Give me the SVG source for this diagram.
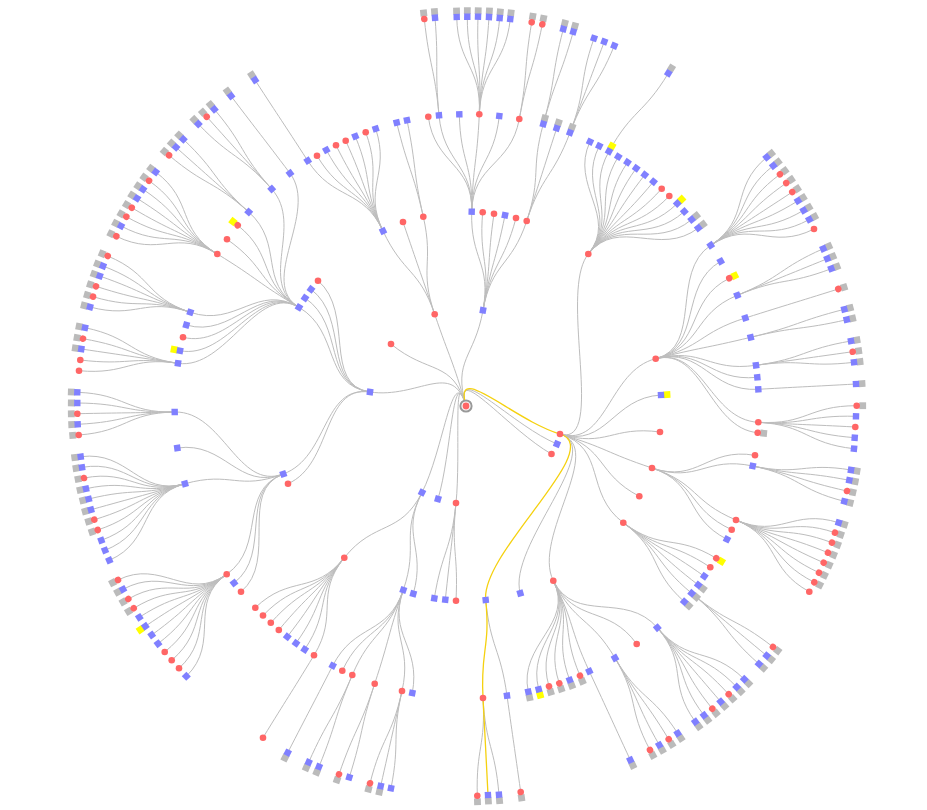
<svg xmlns="http://www.w3.org/2000/svg" width="927" height="810" viewBox="0 0 927 810">
<defs>
<style>
.l{fill:none;stroke:#bdbdbd;stroke-width:1}
.ly{fill:none;stroke:#f5d10f;stroke-width:1.3}
</style>
<circle id="c" r="3.3" fill="#f66"/>
<rect id="s" x="-3.2" y="-3.2" width="6.4" height="6.4" fill="#8080ff"/>
<rect id="g" x="2.6" y="-3.4" width="6.8" height="6.8" fill="#bbb"/>
<rect id="y" x="2.6" y="-3.4" width="6.8" height="6.8" fill="#ff0"/>
</defs>
<rect width="927" height="810" fill="#fff"/>
<g transform="translate(466 406)">
<g id="links">
<path class="l" d="M0 0C-13.4-46.6 -37.5-31 -75-62"/>
<path class="l" d="M0 0C-13.4-46.6 -15.7-45.9 -31.3-91.7"/>
<path class="l" d="M0 0C-13.4-46.6 8.5-47.9 17-95.7"/>
<path class="l" d="M0 0C-13.4-46.6 -48-7 -96-14"/>
<path class="l" d="M0 0C-13.4-46.6 45.5 19 91 38"/>
<path class="l" d="M0 0C-13.4-46.6 42.8 24 85.5 48"/>
<path class="l" d="M0 0C-13.4-46.6 -22 43.3 -44 86.5"/>
<path class="l" d="M0 0C-13.4-46.6 -14 46.5 -28 93"/>
<path class="l" d="M0 0C-13.4-46.6 -5 48.5 -10 97"/>
<path class="l" d="M-31.3-91.7C-47-137.6 -62.3-131.3 -83-175"/>
<path class="l" d="M-31.3-91.7C-47-137.6 -47.3-138 -63-184"/>
<path class="l" d="M-31.3-91.7C-47-137.6 -32-142 -42.7-189.3"/>
<path class="l" d="M17-95.7C25.5-143.6 4.3-145.7 5.7-194.3"/>
<path class="l" d="M17-95.7C25.5-143.6 12.5-145.3 16.7-193.7"/>
<path class="l" d="M17-95.7C25.5-143.6 21-144.2 28-192.3"/>
<path class="l" d="M17-95.7C25.5-143.6 29.3-143 39-190.7"/>
<path class="l" d="M17-95.7C25.5-143.6 37.5-141 50-188"/>
<path class="l" d="M17-95.7C25.5-143.6 45.5-138.8 60.7-185"/>
<path class="l" d="M-96-14C-144-21 -125.3-74 -167-98.7"/>
<path class="l" d="M-96-14C-144-21 -120.8-81 -161-108"/>
<path class="l" d="M-96-14C-144-21 -116.3-87.5 -155-116.7"/>
<path class="l" d="M-96-14C-144-21 -111-94 -148-125.3"/>
<path class="l" d="M-96-14C-144-21 -137 51 -182.7 68"/>
<path class="l" d="M-96-14C-144-21 -133.5 58.3 -178 77.7"/>
<path class="l" d="M94 28C141 42 91.7-114 122.3-152"/>
<path class="l" d="M94 28C141 42 142.3-35.5 189.7-47.3"/>
<path class="l" d="M94 28C141 42 146.3-8.3 195-11"/>
<path class="l" d="M94 28C141 42 145.5 19.5 194 26"/>
<path class="l" d="M94 28C141 42 139.5 46.5 186 62"/>
<path class="l" d="M94 28C141 42 130 67.7 173.3 90.3"/>
<path class="l" d="M94 28C141 42 118 87.5 157.3 116.7"/>
<path class="l" d="M94 28C141 42 65.5 131 87.3 174.7"/>
<path class="l" d="M94 28C141 42 40.7 140.5 54.3 187.3"/>
<path class="l" d="M-44 86.5C-66 129.8 -91.3 113.8 -121.7 151.7"/>
<path class="l" d="M-44 86.5C-66 129.8 -47 138 -62.7 184"/>
<path class="l" d="M-44 86.5C-66 129.8 -39.5 140.8 -52.7 187.7"/>
<path class="l" d="M-10 97C-15 145.5 -23.8 144.2 -31.7 192.3"/>
<path class="l" d="M-10 97C-15 145.5 -15.5 145.3 -20.7 193.7"/>
<path class="l" d="M-10 97C-15 145.5 -7.5 146 -10 194.7"/>
<path class="l" d="M-83-175C-103.8-218.8 -131.9-204.4 -158.3-245.3"/>
<path class="l" d="M-83-175C-103.8-218.8 -124.2-208.6 -149-250.3"/>
<path class="l" d="M-83-175C-103.8-218.8 -116.4-213.3 -139.7-256"/>
<path class="l" d="M-83-175C-103.8-218.8 -108.3-217.3 -130-260.7"/>
<path class="l" d="M-83-175C-103.8-218.8 -100.3-221.1 -120.3-265.3"/>
<path class="l" d="M-83-175C-103.8-218.8 -92.3-224.8 -110.7-269.7"/>
<path class="l" d="M-83-175C-103.8-218.8 -83.6-228.1 -100.3-273.7"/>
<path class="l" d="M-83-175C-103.8-218.8 -75.3-231.1 -90.3-277.3"/>
<path class="l" d="M-42.7-189.3C-53.4-236.6 -57.8-236.1 -69.3-283.3"/>
<path class="l" d="M-42.7-189.3C-53.4-236.6 -49.2-238.1 -59-285.7"/>
<path class="l" d="M5.7-194.3C7.1-242.9 -31.4-241.1 -37.7-289.3"/>
<path class="l" d="M5.7-194.3C7.1-242.9 -22.5-242.3 -27-290.7"/>
<path class="l" d="M5.7-194.3C7.1-242.9 -5.6-243.1 -6.7-291.7"/>
<path class="l" d="M5.7-194.3C7.1-242.9 11.1-243.1 13.3-291.7"/>
<path class="l" d="M5.7-194.3C7.1-242.9 27.8-241.7 33.3-290"/>
<path class="l" d="M5.7-194.3C7.1-242.9 44.4-239.2 53.3-287"/>
<path class="l" d="M60.7-185C75.9-231.3 64.4-235 77.3-282"/>
<path class="l" d="M60.7-185C75.9-231.3 75.6-231.4 90.7-277.7"/>
<path class="l" d="M60.7-185C75.9-231.3 86.7-227.8 104-273.3"/>
<path class="l" d="M-167-98.7C-208.8-123.4 -240-35.6 -288-42.7"/>
<path class="l" d="M-167-98.7C-208.8-123.4 -238.3-46.1 -286-55.3"/>
<path class="l" d="M-167-98.7C-208.8-123.4 -235.8-57.3 -283-68.7"/>
<path class="l" d="M-167-98.7C-208.8-123.4 -233.1-67.5 -279.7-81"/>
<path class="l" d="M-167-98.7C-208.8-123.4 -229.8-78.1 -275.7-93.7"/>
<path class="l" d="M-167-98.7C-208.8-123.4 -207.3-126.7 -248.7-152"/>
<path class="l" d="M-167-98.7C-208.8-123.4 -199.2-138.9 -239-166.7"/>
<path class="l" d="M-167-98.7C-208.8-123.4 -190.3-150.6 -228.3-180.7"/>
<path class="l" d="M-167-98.7C-208.8-123.4 -181.1-161.7 -217.3-194"/>
<path class="l" d="M-167-98.7C-208.8-123.4 -161.9-180.8 -194.3-217"/>
<path class="l" d="M-167-98.7C-208.8-123.4 -146.7-193.9 -176-232.7"/>
<path class="l" d="M-182.7 68C-228.4 85 -242.8 5 -291.3 6"/>
<path class="l" d="M-182.7 68C-228.4 85 -240.6 35 -288.7 42"/>
<path class="l" d="M-182.7 68C-228.4 85 -234.2 64.8 -281 77.7"/>
<path class="l" d="M-182.7 68C-228.4 85 -199.4 140.3 -239.3 168.3"/>
<path class="l" d="M-182.7 68C-228.4 85 -193.3 147.5 -232 177"/>
<path class="l" d="M-182.7 68C-228.4 85 -187.5 154.8 -225 185.7"/>
<path class="l" d="M122.3-152C152.9-190 103.3-220.3 124-264.3"/>
<path class="l" d="M122.3-152C152.9-190 111.1-216.7 133.3-260"/>
<path class="l" d="M122.3-152C152.9-190 119.2-212.3 143-254.7"/>
<path class="l" d="M122.3-152C152.9-190 126.9-207.8 152.3-249.3"/>
<path class="l" d="M122.3-152C152.9-190 134.6-203.1 161.5-243.7"/>
<path class="l" d="M122.3-152C152.9-190 141.8-198.1 170.2-237.7"/>
<path class="l" d="M122.3-152C152.9-190 149-192.7 178.8-231.2"/>
<path class="l" d="M122.3-152C152.9-190 156.3-186.9 187.5-224.3"/>
<path class="l" d="M122.3-152C152.9-190 163.1-181.1 195.7-217.3"/>
<path class="l" d="M122.3-152C152.9-190 169.4-175 203.3-210"/>
<path class="l" d="M122.3-152C152.9-190 176.1-168.8 211.3-202.5"/>
<path class="l" d="M122.3-152C152.9-190 181.9-162.1 218.3-194.5"/>
<path class="l" d="M122.3-152C152.9-190 188.1-155.4 225.7-186.5"/>
<path class="l" d="M122.3-152C152.9-190 193.6-148.3 232.3-178"/>
<path class="l" d="M189.7-47.3C237.1-59.1 203.9-133.9 244.7-160.7"/>
<path class="l" d="M189.7-47.3C237.1-59.1 212.3-120.6 254.7-144.7"/>
<path class="l" d="M189.7-47.3C237.1-59.1 219.4-106.4 263.3-127.7"/>
<path class="l" d="M189.7-47.3C237.1-59.1 226.1-92.3 271.3-110.7"/>
<path class="l" d="M189.7-47.3C237.1-59.1 232.8-73.3 279.3-88"/>
<path class="l" d="M189.7-47.3C237.1-59.1 237.3-57.3 284.7-68.7"/>
<path class="l" d="M189.7-47.3C237.1-59.1 241.7-33.9 290-40.7"/>
<path class="l" d="M189.7-47.3C237.1-59.1 242.8-23.9 291.3-28.7"/>
<path class="l" d="M189.7-47.3C237.1-59.1 243.6-13.9 292.3-16.7"/>
<path class="l" d="M189.7-47.3C237.1-59.1 243.6 13.6 292.3 16.3"/>
<path class="l" d="M189.7-47.3C237.1-59.1 243.1 22.3 291.7 26.7"/>
<path class="l" d="M186 62C232.5 77.5 240.8 41.1 289 49.3"/>
<path class="l" d="M186 62C232.5 77.5 238.9 50 286.7 60"/>
<path class="l" d="M186 62C232.5 77.5 225 95 270 114"/>
<path class="l" d="M186 62C232.5 77.5 221.4 103.1 265.7 123.7"/>
<path class="l" d="M186 62C232.5 77.5 217.5 111.1 261 133.3"/>
<path class="l" d="M157.3 116.7C196.6 145.9 208.6 126.9 250.3 152.3"/>
<path class="l" d="M157.3 116.7C196.6 145.9 203.6 134.4 244.3 161.3"/>
<path class="l" d="M157.3 116.7C196.6 145.9 198.6 141.9 238.3 170.3"/>
<path class="l" d="M157.3 116.7C196.6 145.9 193.6 149.2 232.3 179"/>
<path class="l" d="M157.3 116.7C196.6 145.9 188.1 156.1 225.7 187.3"/>
<path class="l" d="M157.3 116.7C196.6 145.9 181.9 163.1 218.3 195.7"/>
<path class="l" d="M87.3 174.7C109.1 218.4 159.4 184.8 191.3 221.7"/>
<path class="l" d="M87.3 174.7C109.1 218.4 142.3 198.3 170.7 238"/>
<path class="l" d="M87.3 174.7C109.1 218.4 124.2 210 149 252"/>
<path class="l" d="M87.3 174.7C109.1 218.4 102.8 221.1 123.3 265.3"/>
<path class="l" d="M87.3 174.7C109.1 218.4 95 224.8 114 269.7"/>
<path class="l" d="M87.3 174.7C109.1 218.4 86.4 228.3 103.7 274"/>
<path class="l" d="M87.3 174.7C109.1 218.4 77.8 231.1 93.3 277.3"/>
<path class="l" d="M87.3 174.7C109.1 218.4 69.2 233.6 83 280.3"/>
<path class="l" d="M87.3 174.7C109.1 218.4 60.6 236.1 72.7 283.3"/>
<path class="l" d="M87.3 174.7C109.1 218.4 51.9 238.1 62.3 285.7"/>
<path class="l" d="M19.7 194C24.6 242.5 34.2 241.4 41 289.7"/>
<path class="l" d="M-121.7 151.7C-152.1 189.6 -175.6 168.1 -210.7 201.7"/>
<path class="l" d="M-121.7 151.7C-152.1 189.6 -169.2 174.6 -203 209.5"/>
<path class="l" d="M-121.7 151.7C-152.1 189.6 -162.7 180.7 -195.2 216.8"/>
<path class="l" d="M-121.7 151.7C-152.1 189.6 -156 186.7 -187.2 224"/>
<path class="l" d="M-121.7 151.7C-152.1 189.6 -148.9 192.3 -178.7 230.7"/>
<path class="l" d="M-121.7 151.7C-152.1 189.6 -141.7 197.7 -170 237.2"/>
<path class="l" d="M-121.7 151.7C-152.1 189.6 -134.4 202.9 -161.3 243.5"/>
<path class="l" d="M-121.7 151.7C-152.1 189.6 -126.7 207.8 -152 249.3"/>
<path class="l" d="M-62.7 184C-78.4 230 -111.1 216.4 -133.3 259.7"/>
<path class="l" d="M-62.7 184C-78.4 230 -103.1 220.6 -123.7 264.7"/>
<path class="l" d="M-62.7 184C-78.4 230 -94.8 224.2 -113.7 269"/>
<path class="l" d="M-62.7 184C-78.4 230 -76.1 231.4 -91.3 277.7"/>
<path class="l" d="M-62.7 184C-78.4 230 -53.3 237.5 -64 285"/>
<path class="l" d="M-62.7 184C-78.4 230 -44.8 239.2 -53.7 287"/>
<path class="l" d="M-158.3-245.3C-184.7-286.2 -184.6-285.3 -211-326"/>
<path class="l" d="M-27-290.7C-31.5-339.2 -36.5-338.6 -41.7-387"/>
<path class="l" d="M-27-290.7C-31.5-339.2 -27.1-339.8 -31-388.3"/>
<path class="l" d="M13.3-291.7C15.5-340.3 -8.1-340.4 -9.3-389"/>
<path class="l" d="M13.3-291.7C15.5-340.3 1.1-340.6 1.3-389.3"/>
<path class="l" d="M13.3-291.7C15.5-340.3 10.5-340.6 12-389.3"/>
<path class="l" d="M13.3-291.7C15.5-340.3 20.1-340.4 23-389"/>
<path class="l" d="M13.3-291.7C15.5-340.3 29.5-339.5 33.7-388"/>
<path class="l" d="M13.3-291.7C15.5-340.3 38.8-338.6 44.3-387"/>
<path class="l" d="M53.3-287C62.2-334.8 57.5-335.7 65.7-383.7"/>
<path class="l" d="M53.3-287C62.2-334.8 66.8-334 76.3-381.7"/>
<path class="l" d="M77.3-282C90.2-329 85.1-329.9 97.3-377"/>
<path class="l" d="M77.3-282C90.2-329 93.9-327.5 107.3-374.3"/>
<path class="l" d="M104-273.3C121.3-318.9 112-321.7 128-367.7"/>
<path class="l" d="M104-273.3C121.3-318.9 121-318.8 138.3-364.3"/>
<path class="l" d="M104-273.3C121.3-318.9 129.8-315.3 148.3-360.3"/>
<path class="l" d="M143-254.7C166.8-297.2 177-291.1 202.3-332.7"/>
<path class="l" d="M-288-42.7C-336-49.8 -333.4-68.5 -381-78.3"/>
<path class="l" d="M-288-42.7C-336-49.8 -335.1-58.9 -383-67.3"/>
<path class="l" d="M-288-42.7C-336-49.8 -336.6-49.9 -384.7-57"/>
<path class="l" d="M-288-42.7C-336-49.8 -337.5-40.3 -385.7-46"/>
<path class="l" d="M-288-42.7C-336-49.8 -338.6-30.9 -387-35.3"/>
<path class="l" d="M-275.7-93.7C-321.7-109.3 -313.5-131.3 -358.3-150"/>
<path class="l" d="M-275.7-93.7C-321.7-109.3 -317.6-122.5 -363-140"/>
<path class="l" d="M-275.7-93.7C-321.7-109.3 -320.5-113.8 -366.3-130"/>
<path class="l" d="M-275.7-93.7C-321.7-109.3 -323.8-104.7 -370-119.7"/>
<path class="l" d="M-275.7-93.7C-321.7-109.3 -326.4-95.6 -373-109.3"/>
<path class="l" d="M-275.7-93.7C-321.7-109.3 -329-86.6 -376-99"/>
<path class="l" d="M-248.7-152C-290.2-177.3 -306-148.5 -349.7-169.7"/>
<path class="l" d="M-248.7-152C-290.2-177.3 -301.9-157.5 -345-180"/>
<path class="l" d="M-248.7-152C-290.2-177.3 -297.2-165.6 -339.7-189.3"/>
<path class="l" d="M-248.7-152C-290.2-177.3 -292.5-173.5 -334.3-198.3"/>
<path class="l" d="M-248.7-152C-290.2-177.3 -287.9-181.7 -329-207.7"/>
<path class="l" d="M-248.7-152C-290.2-177.3 -282.6-189.6 -323-216.7"/>
<path class="l" d="M-248.7-152C-290.2-177.3 -277.4-197.1 -317-225.3"/>
<path class="l" d="M-248.7-152C-290.2-177.3 -271.5-204.8 -310.3-234"/>
<path class="l" d="M-217.3-194C-253.5-226.3 -259.9-219.4 -297-250.7"/>
<path class="l" d="M-217.3-194C-253.5-226.3 -253.8-226.4 -290-258.7"/>
<path class="l" d="M-217.3-194C-253.5-226.3 -247.4-233.4 -282.7-266.7"/>
<path class="l" d="M-194.3-217C-226.7-253.2 -234.2-246.8 -267.7-282"/>
<path class="l" d="M-194.3-217C-226.7-253.2 -226.9-253.1 -259.3-289.3"/>
<path class="l" d="M-194.3-217C-226.7-253.2 -220.2-259.6 -251.7-296.7"/>
<path class="l" d="M-176-232.7C-205.3-271.5 -205.6-271.3 -235-310"/>
<path class="l" d="M-291.3 6C-339.9 7 -340.1-12 -388.7-13.7"/>
<path class="l" d="M-291.3 6C-339.9 7 -340.1-2.6 -388.7-3"/>
<path class="l" d="M-291.3 6C-339.9 7 -340.1 6.7 -388.7 7.7"/>
<path class="l" d="M-291.3 6C-339.9 7 -339.8 16 -388.3 18.3"/>
<path class="l" d="M-291.3 6C-339.9 7 -338.9 25.4 -387.3 29"/>
<path class="l" d="M-281 77.7C-327.8 90.7 -337.1 44.4 -385.3 50.7"/>
<path class="l" d="M-281 77.7C-327.8 90.7 -336 53.6 -384 61.3"/>
<path class="l" d="M-281 77.7C-327.8 90.7 -334.3 63 -382 72"/>
<path class="l" d="M-281 77.7C-327.8 90.7 -332.5 72.4 -380 82.7"/>
<path class="l" d="M-281 77.7C-327.8 90.7 -330.1 81.4 -377.3 93"/>
<path class="l" d="M-281 77.7C-327.8 90.7 -328.1 90.7 -375 103.7"/>
<path class="l" d="M-281 77.7C-327.8 90.7 -325.2 99.5 -371.7 113.7"/>
<path class="l" d="M-281 77.7C-327.8 90.7 -322.3 108.5 -368.3 124"/>
<path class="l" d="M-281 77.7C-327.8 90.7 -319.1 117.5 -364.7 134.3"/>
<path class="l" d="M-281 77.7C-327.8 90.7 -315.9 126.3 -361 144.3"/>
<path class="l" d="M-281 77.7C-327.8 90.7 -312.1 135 -356.7 154.3"/>
<path class="l" d="M-239.3 168.3C-279.2 196.4 -304.5 152.3 -348 174"/>
<path class="l" d="M-239.3 168.3C-279.2 196.4 -300.1 160.4 -343 183.3"/>
<path class="l" d="M-239.3 168.3C-279.2 196.4 -295.5 168.9 -337.7 193"/>
<path class="l" d="M-239.3 168.3C-279.2 196.4 -290.8 177 -332.3 202.3"/>
<path class="l" d="M-239.3 168.3C-279.2 196.4 -285.9 184.9 -326.7 211.3"/>
<path class="l" d="M-239.3 168.3C-279.2 196.4 -280.6 192.8 -320.7 220.3"/>
<path class="l" d="M-239.3 168.3C-279.2 196.4 -275 200.4 -314.3 229"/>
<path class="l" d="M-239.3 168.3C-279.2 196.4 -269.5 208 -308 237.7"/>
<path class="l" d="M-239.3 168.3C-279.2 196.4 -263.6 215.3 -301.3 246"/>
<path class="l" d="M-239.3 168.3C-279.2 196.4 -257.5 222.5 -294.3 254.3"/>
<path class="l" d="M-239.3 168.3C-279.2 196.4 -251.1 229.5 -287 262.3"/>
<path class="l" d="M-239.3 168.3C-279.2 196.4 -244.7 236.5 -279.7 270.3"/>
<path class="l" d="M244.7-160.7C285.5-187.5 263.1-217.6 300.7-248.7"/>
<path class="l" d="M244.7-160.7C285.5-187.5 268.9-210.3 307.3-240.3"/>
<path class="l" d="M244.7-160.7C285.5-187.5 274.8-202.7 314-231.7"/>
<path class="l" d="M244.7-160.7C285.5-187.5 280.3-195.1 320.3-223"/>
<path class="l" d="M244.7-160.7C285.5-187.5 285.5-187.3 326.3-214"/>
<path class="l" d="M244.7-160.7C285.5-187.5 290.5-179.6 332-205.2"/>
<path class="l" d="M244.7-160.7C285.5-187.5 295.5-171.2 337.7-195.7"/>
<path class="l" d="M244.7-160.7C285.5-187.5 300.4-163.2 343.3-186.5"/>
<path class="l" d="M244.7-160.7C285.5-187.5 304.5-154.9 348-177"/>
<path class="l" d="M271.3-110.7C316.5-129.2 312.6-137.6 357.3-157.3"/>
<path class="l" d="M271.3-110.7C316.5-129.2 316.1-128.9 361.3-147.3"/>
<path class="l" d="M271.3-110.7C316.5-129.2 319.6-120.1 365.3-137.3"/>
<path class="l" d="M279.3-88C325.9-102.7 325.8-102.4 372.3-117"/>
<path class="l" d="M284.7-68.7C332.2-80.2 331-84.6 378.3-96.7"/>
<path class="l" d="M284.7-68.7C332.2-80.2 333.1-75.5 380.7-86.3"/>
<path class="l" d="M290-40.7C338.3-47.5 336.9-56.9 385-65"/>
<path class="l" d="M290-40.7C338.3-47.5 338.4-47.5 386.7-54.3"/>
<path class="l" d="M290-40.7C338.3-47.5 339.5-38.2 388-43.7"/>
<path class="l" d="M292.3-16.7C341-19.5 341.3-19.3 390-22"/>
<path class="l" d="M292.3 16.3C341 19 341.9-0.3 390.7-0.3"/>
<path class="l" d="M292.3 16.3C341 19 341.3 9 390 10.3"/>
<path class="l" d="M292.3 16.3C341 19 340.6 18.4 389.3 21"/>
<path class="l" d="M292.3 16.3C341 19 340.1 27.7 388.7 31.7"/>
<path class="l" d="M292.3 16.3C341 19 339.5 37.4 388 42.7"/>
<path class="l" d="M286.7 60C334.5 70 336.9 56 385 64"/>
<path class="l" d="M286.7 60C334.5 70 335.4 65 383.3 74.3"/>
<path class="l" d="M286.7 60C334.5 70 333.4 74.4 381 85"/>
<path class="l" d="M286.7 60C334.5 70 331 83.4 378.3 95.3"/>
<path class="l" d="M270 114C315 133 326.1 102.1 372.7 116.7"/>
<path class="l" d="M270 114C315 133 322.9 110.9 369 126.7"/>
<path class="l" d="M270 114C315 133 320.3 119.6 366 136.7"/>
<path class="l" d="M270 114C315 133 316.8 128.4 362 146.7"/>
<path class="l" d="M270 114C315 133 313 137.1 357.7 156.7"/>
<path class="l" d="M270 114C315 133 308.9 145.9 353 166.7"/>
<path class="l" d="M270 114C315 133 304.8 154.3 348.3 176.3"/>
<path class="l" d="M270 114C315 133 300.4 162.5 343.3 185.7"/>
<path class="l" d="M225.7 187.3C263.3 218.5 268.6 210.9 307 241"/>
<path class="l" d="M225.7 187.3C263.3 218.5 263.1 218.5 300.7 249.7"/>
<path class="l" d="M225.7 187.3C263.3 218.5 256.4 225.8 293 258"/>
<path class="l" d="M191.3 221.7C223.2 258.7 243.5 239.1 278.3 273.3"/>
<path class="l" d="M191.3 221.7C223.2 258.7 236.9 245.9 270.7 281"/>
<path class="l" d="M191.3 221.7C223.2 258.7 229.9 252.3 262.7 288.3"/>
<path class="l" d="M191.3 221.7C223.2 258.7 222.9 258.7 254.7 295.7"/>
<path class="l" d="M191.3 221.7C223.2 258.7 215.5 264.9 246.3 302.7"/>
<path class="l" d="M191.3 221.7C223.2 258.7 208.3 270.6 238 309.3"/>
<path class="l" d="M191.3 221.7C223.2 258.7 200.6 276.2 229.3 315.7"/>
<path class="l" d="M149 252C173.8 294 185.2 286.4 211.7 327.3"/>
<path class="l" d="M149 252C173.8 294 177.4 291.6 202.7 333.3"/>
<path class="l" d="M149 252C173.8 294 169.1 296.6 193.3 339"/>
<path class="l" d="M149 252C173.8 294 161 301 184 344"/>
<path class="l" d="M123.3 265.3C143.9 309.5 143.8 309.8 164.3 354"/>
<path class="l" d="M17 292C19.8 340.7 9.9 341 11.3 389.7"/>
<path class="l" d="M17 292C19.8 340.7 28.9 340.1 33 388.7"/>
<path class="l" d="M41 289.7C47.8 338 47.9 337.8 54.7 386"/>
<path class="l" d="M-152 249.3C-177.3 290.9 -177.6 290.2 -203 331.7"/>
<path class="l" d="M-133.3 259.7C-155.5 303 -156 303.4 -178.3 346.7"/>
<path class="l" d="M-113.7 269C-132.7 313.8 -137.6 311.8 -157.3 356.3"/>
<path class="l" d="M-113.7 269C-132.7 313.8 -128.6 315.6 -147 360.7"/>
<path class="l" d="M-91.3 277.7C-106.5 324 -111.1 322.3 -127 368.3"/>
<path class="l" d="M-91.3 277.7C-106.5 324 -102.1 324.9 -116.7 371.3"/>
<path class="l" d="M-64 285C-74.7 332.5 -84 330.1 -96 377.3"/>
<path class="l" d="M-64 285C-74.7 332.5 -74.6 332.5 -85.3 380"/>
<path class="l" d="M-64 285C-74.7 332.5 -65.6 334.5 -75 382.3"/>
<path class="ly" d="M0 0C-13.4-46.6 47 14 94 28"/>
<path class="ly" d="M94 28C141 42 14.8 145.5 19.7 194"/>
<path class="ly" d="M19.7 194C24.6 242.5 14.2 243.3 17 292"/>
<path class="ly" d="M17 292C19.8 340.7 19.3 340.4 22 389"/>
</g>
<g id="nodes">
<g id="n0"><circle r="5.6" fill="#fff" stroke="#999" stroke-width="2"/><circle r="3.4" fill="#f66"/></g>
<g id="n1" transform="translate(-75 -62)"><use href="#c"/></g>
<g id="n2" transform="translate(-31.3 -91.7)"><use href="#c"/></g>
<g id="n3" transform="translate(17 -95.7) rotate(-79.9)"><use href="#s"/></g>
<g id="n4" transform="translate(-96 -14) rotate(188.3)"><use href="#s"/></g>
<g id="n5" transform="translate(94 28)"><use href="#c"/></g>
<g id="n6" transform="translate(91 38) rotate(22.7)"><use href="#s"/></g>
<g id="n7" transform="translate(85.5 48)"><use href="#c"/></g>
<g id="n8" transform="translate(-44 86.5) rotate(117)"><use href="#s"/></g>
<g id="n9" transform="translate(-28 93) rotate(106.8)"><use href="#s"/></g>
<g id="n10" transform="translate(-10 97)"><use href="#c"/></g>
<g id="n11" transform="translate(-83 -175) rotate(244.6)"><use href="#s"/></g>
<g id="n12" transform="translate(-63 -184)"><use href="#c"/></g>
<g id="n13" transform="translate(-42.7 -189.3)"><use href="#c"/></g>
<g id="n14" transform="translate(5.7 -194.3) rotate(-88.3)"><use href="#s"/></g>
<g id="n15" transform="translate(16.7 -193.7)"><use href="#c"/></g>
<g id="n16" transform="translate(28 -192.3)"><use href="#c"/></g>
<g id="n17" transform="translate(39 -190.7) rotate(-78.4)"><use href="#s"/></g>
<g id="n18" transform="translate(50 -188)"><use href="#c"/></g>
<g id="n19" transform="translate(60.7 -185)"><use href="#c"/></g>
<g id="n20" transform="translate(-167 -98.7) rotate(210.6)"><use href="#s"/></g>
<g id="n21" transform="translate(-161 -108) rotate(213.9)"><use href="#s"/></g>
<g id="n22" transform="translate(-155 -116.7) rotate(217)"><use href="#s"/></g>
<g id="n23" transform="translate(-148 -125.3)"><use href="#c"/></g>
<g id="n24" transform="translate(-182.7 68) rotate(159.6)"><use href="#s"/></g>
<g id="n25" transform="translate(-178 77.7)"><use href="#c"/></g>
<g id="n26" transform="translate(122.3 -152)"><use href="#c"/></g>
<g id="n27" transform="translate(189.7 -47.3)"><use href="#c"/></g>
<g id="n28" transform="translate(195 -11) rotate(-3.2)"><use href="#y"/><use href="#s"/></g>
<g id="n29" transform="translate(194 26)"><use href="#c"/></g>
<g id="n30" transform="translate(186 62)"><use href="#c"/></g>
<g id="n31" transform="translate(173.3 90.3)"><use href="#c"/></g>
<g id="n32" transform="translate(157.3 116.7)"><use href="#c"/></g>
<g id="n33" transform="translate(87.3 174.7)"><use href="#c"/></g>
<g id="n34" transform="translate(54.3 187.3) rotate(73.8)"><use href="#s"/></g>
<g id="n35" transform="translate(19.7 194) rotate(84.2)"><use href="#s"/></g>
<g id="n36" transform="translate(-121.7 151.7)"><use href="#c"/></g>
<g id="n37" transform="translate(-62.7 184) rotate(108.8)"><use href="#s"/></g>
<g id="n38" transform="translate(-52.7 187.7) rotate(105.7)"><use href="#s"/></g>
<g id="n39" transform="translate(-31.7 192.3) rotate(99.4)"><use href="#s"/></g>
<g id="n40" transform="translate(-20.7 193.7) rotate(96.1)"><use href="#s"/></g>
<g id="n41" transform="translate(-10 194.7)"><use href="#c"/></g>
<g id="n42" transform="translate(-158.3 -245.3) rotate(237.2)"><use href="#s"/></g>
<g id="n43" transform="translate(-149 -250.3)"><use href="#c"/></g>
<g id="n44" transform="translate(-139.7 -256) rotate(241.4)"><use href="#s"/></g>
<g id="n45" transform="translate(-130 -260.7)"><use href="#c"/></g>
<g id="n46" transform="translate(-120.3 -265.3)"><use href="#c"/></g>
<g id="n47" transform="translate(-110.7 -269.7) rotate(247.7)"><use href="#s"/></g>
<g id="n48" transform="translate(-100.3 -273.7)"><use href="#c"/></g>
<g id="n49" transform="translate(-90.3 -277.3) rotate(252)"><use href="#s"/></g>
<g id="n50" transform="translate(-69.3 -283.3) rotate(256.3)"><use href="#s"/></g>
<g id="n51" transform="translate(-59 -285.7) rotate(258.3)"><use href="#s"/></g>
<g id="n52" transform="translate(-37.7 -289.3)"><use href="#c"/></g>
<g id="n53" transform="translate(-27 -290.7) rotate(-95.3)"><use href="#s"/></g>
<g id="n54" transform="translate(-6.7 -291.7) rotate(-91.3)"><use href="#s"/></g>
<g id="n55" transform="translate(13.3 -291.7)"><use href="#c"/></g>
<g id="n56" transform="translate(33.3 -290) rotate(-83.4)"><use href="#s"/></g>
<g id="n57" transform="translate(53.3 -287)"><use href="#c"/></g>
<g id="n58" transform="translate(77.3 -282) rotate(-74.7)"><use href="#g"/><use href="#s"/></g>
<g id="n59" transform="translate(90.7 -277.7) rotate(-71.9)"><use href="#g"/><use href="#s"/></g>
<g id="n60" transform="translate(104 -273.3) rotate(-69.2)"><use href="#g"/><use href="#s"/></g>
<g id="n61" transform="translate(-288 -42.7) rotate(188.4)"><use href="#s"/></g>
<g id="n62" transform="translate(-286 -55.3) rotate(190.9)"><use href="#y"/><use href="#s"/></g>
<g id="n63" transform="translate(-283 -68.7)"><use href="#c"/></g>
<g id="n64" transform="translate(-279.7 -81) rotate(196.2)"><use href="#s"/></g>
<g id="n65" transform="translate(-275.7 -93.7) rotate(198.8)"><use href="#s"/></g>
<g id="n66" transform="translate(-248.7 -152)"><use href="#c"/></g>
<g id="n67" transform="translate(-239 -166.7)"><use href="#c"/></g>
<g id="n68" transform="translate(-228.3 -180.7) rotate(218.4)"><use href="#y"/><use href="#c"/></g>
<g id="n69" transform="translate(-217.3 -194) rotate(221.8)"><use href="#s"/></g>
<g id="n70" transform="translate(-194.3 -217) rotate(228.2)"><use href="#s"/></g>
<g id="n71" transform="translate(-176 -232.7) rotate(232.9)"><use href="#s"/></g>
<g id="n72" transform="translate(-291.3 6) rotate(178.8)"><use href="#s"/></g>
<g id="n73" transform="translate(-288.7 42) rotate(171.7)"><use href="#s"/></g>
<g id="n74" transform="translate(-281 77.7) rotate(164.5)"><use href="#s"/></g>
<g id="n75" transform="translate(-239.3 168.3)"><use href="#c"/></g>
<g id="n76" transform="translate(-232 177) rotate(142.7)"><use href="#s"/></g>
<g id="n77" transform="translate(-225 185.7)"><use href="#c"/></g>
<g id="n78" transform="translate(124 -264.3) rotate(-64.9)"><use href="#s"/></g>
<g id="n79" transform="translate(133.3 -260) rotate(-62.9)"><use href="#s"/></g>
<g id="n80" transform="translate(143 -254.7) rotate(-60.7)"><use href="#y"/><use href="#s"/></g>
<g id="n81" transform="translate(152.3 -249.3) rotate(-58.6)"><use href="#s"/></g>
<g id="n82" transform="translate(161.5 -243.7) rotate(-56.5)"><use href="#s"/></g>
<g id="n83" transform="translate(170.2 -237.7) rotate(-54.4)"><use href="#s"/></g>
<g id="n84" transform="translate(178.8 -231.2) rotate(-52.3)"><use href="#s"/></g>
<g id="n85" transform="translate(187.5 -224.3) rotate(-50.1)"><use href="#s"/></g>
<g id="n86" transform="translate(195.7 -217.3)"><use href="#c"/></g>
<g id="n87" transform="translate(203.3 -210)"><use href="#c"/></g>
<g id="n88" transform="translate(211.3 -202.5) rotate(-43.8)"><use href="#y"/><use href="#s"/></g>
<g id="n89" transform="translate(218.3 -194.5) rotate(-41.7)"><use href="#s"/></g>
<g id="n90" transform="translate(225.7 -186.5) rotate(-39.6)"><use href="#g"/><use href="#s"/></g>
<g id="n91" transform="translate(232.3 -178) rotate(-37.5)"><use href="#g"/><use href="#s"/></g>
<g id="n92" transform="translate(244.7 -160.7) rotate(-33.3)"><use href="#s"/></g>
<g id="n93" transform="translate(254.7 -144.7) rotate(-29.6)"><use href="#s"/></g>
<g id="n94" transform="translate(263.3 -127.7) rotate(-25.9)"><use href="#y"/><use href="#c"/></g>
<g id="n95" transform="translate(271.3 -110.7) rotate(-22.2)"><use href="#s"/></g>
<g id="n96" transform="translate(279.3 -88) rotate(-17.5)"><use href="#s"/></g>
<g id="n97" transform="translate(284.7 -68.7) rotate(-13.6)"><use href="#s"/></g>
<g id="n98" transform="translate(290 -40.7) rotate(-8)"><use href="#s"/></g>
<g id="n99" transform="translate(291.3 -28.7) rotate(-5.6)"><use href="#s"/></g>
<g id="n100" transform="translate(292.3 -16.7) rotate(-3.3)"><use href="#s"/></g>
<g id="n101" transform="translate(292.3 16.3)"><use href="#c"/></g>
<g id="n102" transform="translate(291.7 26.7) rotate(5.2)"><use href="#g"/><use href="#c"/></g>
<g id="n103" transform="translate(289 49.3)"><use href="#c"/></g>
<g id="n104" transform="translate(286.7 60) rotate(11.8)"><use href="#s"/></g>
<g id="n105" transform="translate(270 114)"><use href="#c"/></g>
<g id="n106" transform="translate(265.7 123.7)"><use href="#c"/></g>
<g id="n107" transform="translate(261 133.3) rotate(27.1)"><use href="#s"/></g>
<g id="n108" transform="translate(250.3 152.3) rotate(31.3)"><use href="#y"/><use href="#c"/></g>
<g id="n109" transform="translate(244.3 161.3)"><use href="#c"/></g>
<g id="n110" transform="translate(238.3 170.3) rotate(35.6)"><use href="#s"/></g>
<g id="n111" transform="translate(232.3 179) rotate(37.6)"><use href="#g"/><use href="#s"/></g>
<g id="n112" transform="translate(225.7 187.3) rotate(39.7)"><use href="#g"/><use href="#s"/></g>
<g id="n113" transform="translate(218.3 195.7) rotate(41.9)"><use href="#g"/><use href="#s"/></g>
<g id="n114" transform="translate(191.3 221.7) rotate(49.2)"><use href="#s"/></g>
<g id="n115" transform="translate(170.7 238)"><use href="#c"/></g>
<g id="n116" transform="translate(149 252) rotate(59.4)"><use href="#s"/></g>
<g id="n117" transform="translate(123.3 265.3) rotate(65.1)"><use href="#s"/></g>
<g id="n118" transform="translate(114 269.7) rotate(67.1)"><use href="#g"/><use href="#c"/></g>
<g id="n119" transform="translate(103.7 274) rotate(69.3)"><use href="#g"/><use href="#s"/></g>
<g id="n120" transform="translate(93.3 277.3) rotate(71.4)"><use href="#g"/><use href="#c"/></g>
<g id="n121" transform="translate(83 280.3) rotate(73.5)"><use href="#g"/><use href="#c"/></g>
<g id="n122" transform="translate(72.7 283.3) rotate(75.6)"><use href="#y"/><use href="#s"/></g>
<g id="n123" transform="translate(62.3 285.7) rotate(77.7)"><use href="#g"/><use href="#s"/></g>
<g id="n124" transform="translate(17 292)"><use href="#c"/></g>
<g id="n125" transform="translate(41 289.7) rotate(81.9)"><use href="#s"/></g>
<g id="n126" transform="translate(-210.7 201.7)"><use href="#c"/></g>
<g id="n127" transform="translate(-203 209.5)"><use href="#c"/></g>
<g id="n128" transform="translate(-195.2 216.8)"><use href="#c"/></g>
<g id="n129" transform="translate(-187.2 224)"><use href="#c"/></g>
<g id="n130" transform="translate(-178.7 230.7) rotate(127.8)"><use href="#s"/></g>
<g id="n131" transform="translate(-170 237.2) rotate(125.6)"><use href="#s"/></g>
<g id="n132" transform="translate(-161.3 243.5) rotate(123.5)"><use href="#s"/></g>
<g id="n133" transform="translate(-152 249.3)"><use href="#c"/></g>
<g id="n134" transform="translate(-133.3 259.7) rotate(117.2)"><use href="#s"/></g>
<g id="n135" transform="translate(-123.7 264.7)"><use href="#c"/></g>
<g id="n136" transform="translate(-113.7 269)"><use href="#c"/></g>
<g id="n137" transform="translate(-91.3 277.7)"><use href="#c"/></g>
<g id="n138" transform="translate(-64 285)"><use href="#c"/></g>
<g id="n139" transform="translate(-53.7 287) rotate(100.6)"><use href="#s"/></g>
<g id="n140" transform="translate(-211 -326) rotate(237.1)"><use href="#g"/><use href="#s"/></g>
<g id="n141" transform="translate(-41.7 -387) rotate(-96.2)"><use href="#g"/><use href="#c"/></g>
<g id="n142" transform="translate(-31 -388.3) rotate(-94.6)"><use href="#g"/><use href="#s"/></g>
<g id="n143" transform="translate(-9.3 -389) rotate(-91.4)"><use href="#g"/><use href="#s"/></g>
<g id="n144" transform="translate(1.3 -389.3) rotate(-89.8)"><use href="#g"/><use href="#s"/></g>
<g id="n145" transform="translate(12 -389.3) rotate(-88.2)"><use href="#g"/><use href="#s"/></g>
<g id="n146" transform="translate(23 -389) rotate(-86.6)"><use href="#g"/><use href="#s"/></g>
<g id="n147" transform="translate(33.7 -388) rotate(-85)"><use href="#g"/><use href="#s"/></g>
<g id="n148" transform="translate(44.3 -387) rotate(-83.5)"><use href="#g"/><use href="#s"/></g>
<g id="n149" transform="translate(65.7 -383.7) rotate(-80.3)"><use href="#g"/><use href="#c"/></g>
<g id="n150" transform="translate(76.3 -381.7) rotate(-78.7)"><use href="#g"/><use href="#c"/></g>
<g id="n151" transform="translate(97.3 -377) rotate(-75.5)"><use href="#g"/><use href="#s"/></g>
<g id="n152" transform="translate(107.3 -374.3) rotate(-74)"><use href="#g"/><use href="#s"/></g>
<g id="n153" transform="translate(128 -367.7) rotate(-70.8)"><use href="#s"/></g>
<g id="n154" transform="translate(138.3 -364.3) rotate(-69.2)"><use href="#s"/></g>
<g id="n155" transform="translate(148.3 -360.3) rotate(-67.6)"><use href="#s"/></g>
<g id="n156" transform="translate(202.3 -332.7) rotate(-58.7)"><use href="#g"/><use href="#s"/></g>
<g id="n157" transform="translate(-381 -78.3) rotate(191.6)"><use href="#g"/><use href="#s"/></g>
<g id="n158" transform="translate(-383 -67.3) rotate(190)"><use href="#g"/><use href="#c"/></g>
<g id="n159" transform="translate(-384.7 -57) rotate(188.4)"><use href="#g"/><use href="#s"/></g>
<g id="n160" transform="translate(-385.7 -46)"><use href="#c"/></g>
<g id="n161" transform="translate(-387 -35.3)"><use href="#c"/></g>
<g id="n162" transform="translate(-358.3 -150) rotate(202.7)"><use href="#g"/><use href="#c"/></g>
<g id="n163" transform="translate(-363 -140) rotate(201.1)"><use href="#g"/><use href="#s"/></g>
<g id="n164" transform="translate(-366.3 -130) rotate(199.5)"><use href="#g"/><use href="#s"/></g>
<g id="n165" transform="translate(-370 -119.7) rotate(197.9)"><use href="#g"/><use href="#c"/></g>
<g id="n166" transform="translate(-373 -109.3) rotate(196.3)"><use href="#g"/><use href="#c"/></g>
<g id="n167" transform="translate(-376 -99) rotate(194.75)"><use href="#g"/><use href="#s"/></g>
<g id="n168" transform="translate(-349.7 -169.7) rotate(205.9)"><use href="#g"/><use href="#c"/></g>
<g id="n169" transform="translate(-345 -180) rotate(207.5)"><use href="#g"/><use href="#s"/></g>
<g id="n170" transform="translate(-339.7 -189.3) rotate(209.1)"><use href="#g"/><use href="#c"/></g>
<g id="n171" transform="translate(-334.3 -198.3) rotate(210.7)"><use href="#g"/><use href="#c"/></g>
<g id="n172" transform="translate(-329 -207.7) rotate(212.3)"><use href="#g"/><use href="#s"/></g>
<g id="n173" transform="translate(-323 -216.7) rotate(213.9)"><use href="#g"/><use href="#s"/></g>
<g id="n174" transform="translate(-317 -225.3) rotate(215.4)"><use href="#g"/><use href="#c"/></g>
<g id="n175" transform="translate(-310.3 -234) rotate(217)"><use href="#g"/><use href="#s"/></g>
<g id="n176" transform="translate(-297 -250.7) rotate(220.2)"><use href="#g"/><use href="#c"/></g>
<g id="n177" transform="translate(-290 -258.7) rotate(221.7)"><use href="#g"/><use href="#s"/></g>
<g id="n178" transform="translate(-282.7 -266.7) rotate(223.3)"><use href="#g"/><use href="#s"/></g>
<g id="n179" transform="translate(-267.7 -282) rotate(226.5)"><use href="#g"/><use href="#s"/></g>
<g id="n180" transform="translate(-259.3 -289.3) rotate(228.1)"><use href="#g"/><use href="#c"/></g>
<g id="n181" transform="translate(-251.7 -296.7) rotate(229.7)"><use href="#g"/><use href="#s"/></g>
<g id="n182" transform="translate(-235 -310) rotate(232.8)"><use href="#g"/><use href="#s"/></g>
<g id="n183" transform="translate(-388.7 -13.7) rotate(182)"><use href="#g"/><use href="#s"/></g>
<g id="n184" transform="translate(-388.7 -3) rotate(180.4)"><use href="#g"/><use href="#s"/></g>
<g id="n185" transform="translate(-388.7 7.7) rotate(178.9)"><use href="#g"/><use href="#c"/></g>
<g id="n186" transform="translate(-388.3 18.3) rotate(177.3)"><use href="#g"/><use href="#s"/></g>
<g id="n187" transform="translate(-387.3 29) rotate(175.7)"><use href="#g"/><use href="#c"/></g>
<g id="n188" transform="translate(-385.3 50.7) rotate(172.5)"><use href="#g"/><use href="#s"/></g>
<g id="n189" transform="translate(-384 61.3) rotate(170.9)"><use href="#g"/><use href="#s"/></g>
<g id="n190" transform="translate(-382 72) rotate(169.3)"><use href="#g"/><use href="#c"/></g>
<g id="n191" transform="translate(-380 82.7) rotate(167.7)"><use href="#g"/><use href="#s"/></g>
<g id="n192" transform="translate(-377.3 93) rotate(166.2)"><use href="#g"/><use href="#s"/></g>
<g id="n193" transform="translate(-375 103.7) rotate(164.5)"><use href="#g"/><use href="#s"/></g>
<g id="n194" transform="translate(-371.7 113.7) rotate(163)"><use href="#g"/><use href="#c"/></g>
<g id="n195" transform="translate(-368.3 124) rotate(161.4)"><use href="#g"/><use href="#c"/></g>
<g id="n196" transform="translate(-364.7 134.3) rotate(159.8)"><use href="#s"/></g>
<g id="n197" transform="translate(-361 144.3) rotate(158.2)"><use href="#s"/></g>
<g id="n198" transform="translate(-356.7 154.3) rotate(156.6)"><use href="#s"/></g>
<g id="n199" transform="translate(-348 174) rotate(153.4)"><use href="#g"/><use href="#c"/></g>
<g id="n200" transform="translate(-343 183.3) rotate(151.9)"><use href="#g"/><use href="#s"/></g>
<g id="n201" transform="translate(-337.7 193) rotate(150.3)"><use href="#g"/><use href="#c"/></g>
<g id="n202" transform="translate(-332.3 202.3) rotate(148.7)"><use href="#g"/><use href="#c"/></g>
<g id="n203" transform="translate(-326.7 211.3) rotate(147.1)"><use href="#s"/></g>
<g id="n204" transform="translate(-320.7 220.3) rotate(145.5)"><use href="#y"/><use href="#s"/></g>
<g id="n205" transform="translate(-314.3 229) rotate(143.9)"><use href="#s"/></g>
<g id="n206" transform="translate(-308 237.7) rotate(142.3)"><use href="#s"/></g>
<g id="n207" transform="translate(-301.3 246)"><use href="#c"/></g>
<g id="n208" transform="translate(-294.3 254.3)"><use href="#c"/></g>
<g id="n209" transform="translate(-287 262.3)"><use href="#c"/></g>
<g id="n210" transform="translate(-279.7 270.3) rotate(136)"><use href="#s"/></g>
<g id="n211" transform="translate(300.7 -248.7) rotate(-39.6)"><use href="#g"/><use href="#s"/></g>
<g id="n212" transform="translate(307.3 -240.3) rotate(-38)"><use href="#g"/><use href="#s"/></g>
<g id="n213" transform="translate(314 -231.7) rotate(-36.4)"><use href="#g"/><use href="#c"/></g>
<g id="n214" transform="translate(320.3 -223) rotate(-34.8)"><use href="#g"/><use href="#c"/></g>
<g id="n215" transform="translate(326.3 -214) rotate(-33.3)"><use href="#g"/><use href="#c"/></g>
<g id="n216" transform="translate(332 -205.2) rotate(-31.7)"><use href="#g"/><use href="#s"/></g>
<g id="n217" transform="translate(337.7 -195.7) rotate(-30.1)"><use href="#g"/><use href="#s"/></g>
<g id="n218" transform="translate(343.3 -186.5) rotate(-28.5)"><use href="#g"/><use href="#s"/></g>
<g id="n219" transform="translate(348 -177)"><use href="#c"/></g>
<g id="n220" transform="translate(357.3 -157.3) rotate(-23.8)"><use href="#g"/><use href="#s"/></g>
<g id="n221" transform="translate(361.3 -147.3) rotate(-22.2)"><use href="#g"/><use href="#s"/></g>
<g id="n222" transform="translate(365.3 -137.3) rotate(-20.6)"><use href="#g"/><use href="#s"/></g>
<g id="n223" transform="translate(372.3 -117) rotate(-17.4)"><use href="#g"/><use href="#c"/></g>
<g id="n224" transform="translate(378.3 -96.7) rotate(-14.3)"><use href="#g"/><use href="#s"/></g>
<g id="n225" transform="translate(380.7 -86.3) rotate(-12.8)"><use href="#g"/><use href="#s"/></g>
<g id="n226" transform="translate(385 -65) rotate(-9.6)"><use href="#g"/><use href="#s"/></g>
<g id="n227" transform="translate(386.7 -54.3) rotate(-8)"><use href="#g"/><use href="#c"/></g>
<g id="n228" transform="translate(388 -43.7) rotate(-6.4)"><use href="#g"/><use href="#s"/></g>
<g id="n229" transform="translate(390 -22) rotate(-3.2)"><use href="#g"/><use href="#s"/></g>
<g id="n230" transform="translate(390.7 -0.3)"><use href="#g"/><use href="#c"/></g>
<g id="n231" transform="translate(390 10.3) rotate(1.5)"><use href="#s"/></g>
<g id="n232" transform="translate(389.3 21)"><use href="#c"/></g>
<g id="n233" transform="translate(388.7 31.7) rotate(4.7)"><use href="#s"/></g>
<g id="n234" transform="translate(388 42.7) rotate(6.3)"><use href="#s"/></g>
<g id="n235" transform="translate(385 64) rotate(9.4)"><use href="#g"/><use href="#s"/></g>
<g id="n236" transform="translate(383.3 74.3) rotate(11)"><use href="#g"/><use href="#s"/></g>
<g id="n237" transform="translate(381 85) rotate(12.6)"><use href="#g"/><use href="#c"/></g>
<g id="n238" transform="translate(378.3 95.3) rotate(14.1)"><use href="#g"/><use href="#s"/></g>
<g id="n239" transform="translate(372.7 116.7) rotate(17.4)"><use href="#g"/><use href="#s"/></g>
<g id="n240" transform="translate(369 126.7) rotate(18.9)"><use href="#g"/><use href="#c"/></g>
<g id="n241" transform="translate(366 136.7) rotate(20.5)"><use href="#g"/><use href="#c"/></g>
<g id="n242" transform="translate(362 146.7) rotate(22.1)"><use href="#g"/><use href="#c"/></g>
<g id="n243" transform="translate(357.7 156.7) rotate(23.7)"><use href="#g"/><use href="#c"/></g>
<g id="n244" transform="translate(353 166.7) rotate(25.3)"><use href="#g"/><use href="#c"/></g>
<g id="n245" transform="translate(348.3 176.3) rotate(26.8)"><use href="#g"/><use href="#c"/></g>
<g id="n246" transform="translate(343.3 185.7)"><use href="#c"/></g>
<g id="n247" transform="translate(307 241) rotate(38.1)"><use href="#g"/><use href="#c"/></g>
<g id="n248" transform="translate(300.7 249.7) rotate(39.7)"><use href="#g"/><use href="#s"/></g>
<g id="n249" transform="translate(293 258) rotate(41.4)"><use href="#g"/><use href="#s"/></g>
<g id="n250" transform="translate(278.3 273.3) rotate(44.5)"><use href="#g"/><use href="#s"/></g>
<g id="n251" transform="translate(270.7 281) rotate(46.1)"><use href="#g"/><use href="#s"/></g>
<g id="n252" transform="translate(262.7 288.3) rotate(47.7)"><use href="#g"/><use href="#c"/></g>
<g id="n253" transform="translate(254.7 295.7) rotate(49.3)"><use href="#g"/><use href="#s"/></g>
<g id="n254" transform="translate(246.3 302.7) rotate(50.9)"><use href="#g"/><use href="#c"/></g>
<g id="n255" transform="translate(238 309.3) rotate(52.4)"><use href="#g"/><use href="#s"/></g>
<g id="n256" transform="translate(229.3 315.7) rotate(54)"><use href="#g"/><use href="#s"/></g>
<g id="n257" transform="translate(211.7 327.3) rotate(57.1)"><use href="#g"/><use href="#s"/></g>
<g id="n258" transform="translate(202.7 333.3) rotate(58.7)"><use href="#g"/><use href="#c"/></g>
<g id="n259" transform="translate(193.3 339) rotate(60.3)"><use href="#g"/><use href="#s"/></g>
<g id="n260" transform="translate(184 344) rotate(61.9)"><use href="#g"/><use href="#c"/></g>
<g id="n261" transform="translate(164.3 354) rotate(65.1)"><use href="#g"/><use href="#s"/></g>
<g id="n262" transform="translate(11.3 389.7) rotate(88.3)"><use href="#g"/><use href="#c"/></g>
<g id="n263" transform="translate(22 389) rotate(86.8)"><use href="#g"/><use href="#s"/></g>
<g id="n264" transform="translate(33 388.7) rotate(85.1)"><use href="#g"/><use href="#s"/></g>
<g id="n265" transform="translate(54.7 386) rotate(81.9)"><use href="#g"/><use href="#c"/></g>
<g id="n266" transform="translate(-203 331.7)"><use href="#c"/></g>
<g id="n267" transform="translate(-178.3 346.7) rotate(117.2)"><use href="#g"/><use href="#s"/></g>
<g id="n268" transform="translate(-157.3 356.3) rotate(113.8)"><use href="#g"/><use href="#s"/></g>
<g id="n269" transform="translate(-147 360.7) rotate(112.2)"><use href="#g"/><use href="#s"/></g>
<g id="n270" transform="translate(-127 368.3) rotate(109)"><use href="#g"/><use href="#c"/></g>
<g id="n271" transform="translate(-116.7 371.3) rotate(107.45)"><use href="#s"/></g>
<g id="n272" transform="translate(-96 377.3) rotate(104.3)"><use href="#g"/><use href="#c"/></g>
<g id="n273" transform="translate(-85.3 380) rotate(102.65)"><use href="#g"/><use href="#s"/></g>
<g id="n274" transform="translate(-75 382.3) rotate(101.1)"><use href="#s"/></g>
</g>
</g>
</svg>
